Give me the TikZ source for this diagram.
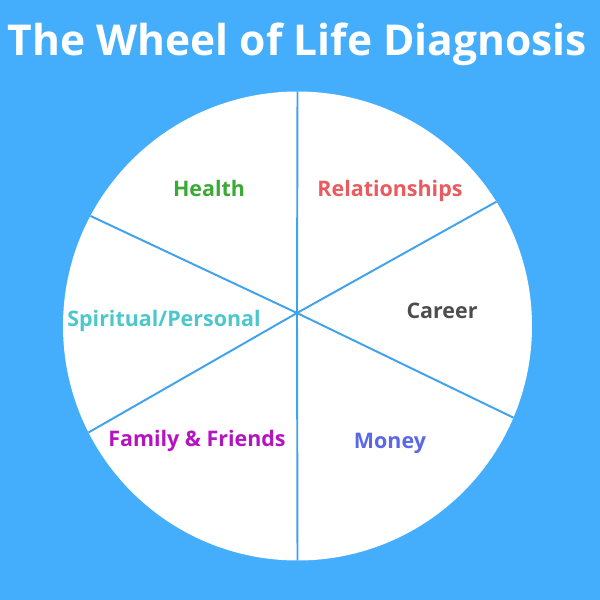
\documentclass[tikz,border=0pt]{standalone}
\usepackage{fontspec}
\setmainfont{Open Sans}

\definecolor{skyblue}{HTML}{44AEFD}
\definecolor{spokeblue}{HTML}{3FA2EC}
\definecolor{healthgreen}{HTML}{3AAA35}
\definecolor{relred}{HTML}{E95B5E}
\definecolor{careergray}{HTML}{4D4D4D}
\definecolor{spiritteal}{HTML}{4CC8CC}
\definecolor{familymag}{HTML}{B414BF}
\definecolor{moneyblue}{HTML}{5A68E8}

\begin{document}
\begin{tikzpicture}[
    spoke/.style={draw=spokeblue, line width=1.1pt},
    area/.style={font=\fontsize{12.2}{14}\selectfont\bfseries, inner sep=0pt}
]
\tikzstyle{every node}=[font=\small]

% --- FOND ---
\fill[skyblue] (0,0) rectangle (12,12);
\useasboundingbox (0,0) rectangle (12,12);

% --- TITRE ---
\node[anchor=base, text=white, font=\fontsize{24.2}{28}\selectfont\bfseries, inner sep=0pt] (title) at (5.95,10.89) {The Wheel of Life Diagnosis};

% --- ROUE ---
\node[circle, fill=white, minimum size=9.38cm, inner sep=0pt, outer sep=0pt] (wheel) at (5.95,5.48) {};
\coordinate (hub) at (5.94,5.74);

% rayons
\foreach \a in {90,32,-23,270,207,152}
    \draw[spoke] (hub) -- (wheel.\a);

% --- DOMAINES ---
\node[area, text=healthgreen] (health) at (4.18,8.24) {Health};
\node[area, text=relred] (relations) at (7.80,8.18) {Relationships};
\node[area, text=careergray] (career) at (8.84,5.78) {Career};
\node[area, text=spiritteal] (spirit) at (3.28,5.58) {Spiritual/Personal};
\node[area, text=familymag] (family) at (3.94,3.18) {Family \& Friends};
\node[area, text=moneyblue] (money) at (7.80,3.14) {Money};

\end{tikzpicture}
\end{document}
